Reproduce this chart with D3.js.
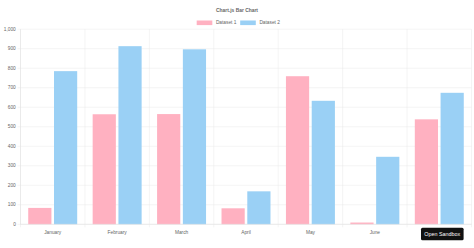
<!DOCTYPE html>
<html><head><meta charset="utf-8">
<script src="https://cdn.jsdelivr.net/npm/d3@7"></script>
<style>html,body{margin:0;padding:0;background:#fff;}svg{display:block;}</style>
</head><body><svg id="c" width="474" height="248"></svg>
<script>
const categories = ["January","February","March","April","May","June","July"];
const dataset1 = [84, 564, 565, 82, 759, 9, 538];
const dataset2 = [785, 913, 897, 169, 633, 346, 674];
const seriesNames = ["Dataset 1","Dataset 2"];
const yTicks = [0,100,200,300,400,500,600,700,800,900,1000];
const colors = ["#ffb1c1","#9ad0f5"];

const svg = d3.select("#c");
const W = 474, H = 248;
const m = {left:20.5, right:471.5, top:29.2, bottom:224.3};
const font = "'Liberation Sans', Arial, Helvetica, sans-serif";
const grid = "#e9e9e9";

const x = d3.scaleBand().domain(categories).range([m.left, m.right]).paddingInner(0).paddingOuter(0);
const y = d3.scaleLinear().domain([0,1000]).range([m.bottom, m.top]);
const inner = d3.scaleBand().domain([0,1]).range([0, x.bandwidth()*0.8]).paddingInner(0.1).paddingOuter(0.05);

// horizontal grid
svg.append("g").selectAll("line").data(yTicks).join("line")
  .attr("x1", m.left-3).attr("x2", m.right)
  .attr("y1", d=>y(d)).attr("y2", d=>y(d))
  .attr("stroke", grid).attr("stroke-width", 0.5);
// vertical grid (category boundaries)
const bounds = categories.map(c=>x(c)).concat([x(categories[categories.length-1])+x.bandwidth()]);
svg.append("g").selectAll("line").data(bounds).join("line")
  .attr("x1", d=>d).attr("x2", d=>d)
  .attr("y1", m.top).attr("y2", m.bottom+3)
  .attr("stroke", grid).attr("stroke-width", 0.5);

// bars
const series = [dataset1, dataset2];
series.forEach((vals, si)=>{
  svg.append("g").selectAll("rect").data(vals).join("rect")
    .attr("x", (d,i)=> x(categories[i]) + x.bandwidth()*0.1 + inner(si))
    .attr("width", inner.bandwidth())
    .attr("y", d=>y(d))
    .attr("height", d=>y(0)-y(d))
    .attr("fill", colors[si]);
});

// axis borders
svg.append("line").attr("x1", m.left).attr("x2", m.left).attr("y1", m.top).attr("y2", m.bottom)
  .attr("stroke", "#e2e2e2").attr("stroke-width", 0.6);
svg.append("line").attr("x1", m.left).attr("x2", m.right).attr("y1", m.bottom).attr("y2", m.bottom)
  .attr("stroke", "#e2e2e2").attr("stroke-width", 0.6);

// y tick labels
const fmt = d3.format(",");
svg.append("g").selectAll("text").data(yTicks).join("text")
  .attr("x", 15.8).attr("y", d=>y(d)).attr("dy","0.35em")
  .attr("text-anchor","end").attr("font-family", font).attr("font-size", 4.8)
  .attr("fill","#666").text(d=>fmt(d));

// x tick labels
svg.append("g").selectAll("text").data(categories).join("text")
  .attr("x", d=>x(d)+x.bandwidth()/2).attr("y", 232).attr("dy","0.35em")
  .attr("text-anchor","middle").attr("font-family", font).attr("font-size", 4.8)
  .attr("fill","#666").text(d=>d);

// title
svg.append("text").attr("x", 237).attr("y", 9.8).attr("dy","0.35em")
  .attr("text-anchor","middle").attr("font-family", font).attr("font-size", 4.9)
  .attr("font-weight","bold").attr("fill","#666").text("Chart.js Bar Chart");

// legend
const legX = [196.7, 240.2];
seriesNames.forEach((n,i)=>{
  svg.append("rect").attr("x", legX[i]).attr("y", 20.5).attr("width", 15.6).attr("height", 4.6)
    .attr("fill", colors[i]);
  svg.append("text").attr("x", legX[i]+19.2).attr("y", 22.8).attr("dy","0.35em")
    .attr("font-family", font).attr("font-size", 4.8).attr("fill","#666").text(n);
});

// Open Sandbox button
svg.append("rect").attr("x", 421).attr("y", 227.7).attr("width", 42.6).attr("height", 12.6)
  .attr("rx", 1.5).attr("fill", "#111");
svg.append("text").attr("x", 442.3).attr("y", 234).attr("dy","0.35em").attr("text-anchor","middle")
  .attr("font-family", font).attr("font-size", 5.4).attr("fill","#fff").text("Open Sandbox");
</script></body></html>
